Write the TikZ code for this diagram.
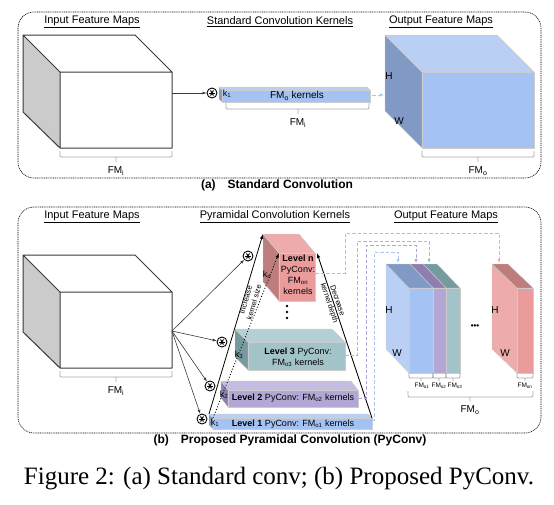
\documentclass[tikz,border=0pt]{standalone}
\usepackage{fontspec}
\setmainfont{Liberation Sans}
\newfontfamily\figfont{Liberation Serif}
\usetikzlibrary{arrows.meta}

\definecolor{edgegray}{HTML}{3A3A3A}
\definecolor{sidegray}{HTML}{CBCBCB}
\definecolor{brkgray}{HTML}{A8A8A8}
\definecolor{kblue}{HTML}{A4C2F4}
\definecolor{kbluelt}{HTML}{B9CFF3}
\definecolor{kbluedk}{HTML}{8099C5}
\definecolor{kred}{HTML}{EA9C9C}
\definecolor{kredlt}{HTML}{EDABAB}
\definecolor{kreddk}{HTML}{BF7C7C}
\definecolor{kteal}{HTML}{A2C4C9}
\definecolor{kteallt}{HTML}{B4D0D4}
\definecolor{ktealdk}{HTML}{759B9E}
\definecolor{kpurple}{HTML}{B4A7D6}
\definecolor{kpurplelt}{HTML}{C5BCE2}
\definecolor{kpurpledk}{HTML}{8E7FB0}
\definecolor{dashred}{HTML}{F4A9A9}
\definecolor{dashteal}{HTML}{9CC4C8}
\definecolor{dashpurple}{HTML}{B1A5D6}
\definecolor{dashblue}{HTML}{A9C6F5}

\tikzset{
  frame/.style={draw=black, line width=0.6pt, dash pattern=on 1pt off 0.8pt, rounded corners=16pt},
  head/.style={font=\fontsize{11}{13}\selectfont, inner sep=1pt},
  captxt/.style={font=\fontsize{12}{14}\selectfont\bfseries, inner sep=1pt},
  lbl/.style={font=\fontsize{10}{12}\selectfont, inner sep=0.5pt},
  small/.style={font=\fontsize{9}{11}\selectfont, inner sep=0.5pt},
  tiny/.style={font=\fontsize{6.5}{8}\selectfont, inner sep=0.5pt},
  sidetxt/.style={font=\fontsize{7.5}{8.5}\selectfont, align=center, inner sep=0.5pt},
  cube/.style={draw=edgegray, line width=1pt, line join=round},
  brk/.style={draw=brkgray, line width=0.8pt, rounded corners=1pt},
  boxline/.style={draw=black!20, line width=0.4pt},
  conv/.style={circle, draw, line width=0.9pt, minimum size=10pt, inner sep=0pt, fill=white,
    path picture={\foreach \a in {0,60,120}
      \draw[line width=1pt] (path picture bounding box.center) ++(\a:2.9pt) -- ++(\a+180:5.8pt);}},
  feed/.style={draw=edgegray, line width=0.6pt, -{Latex[length=4pt,width=3pt]}},
  pyr/.style={draw=black, line width=0.8pt, -{Latex[length=5pt,width=3.5pt]}},
  lvl/.style={draw=black, line width=0.9pt, dotted, -{Latex[length=5pt,width=3.5pt]}},
  kdash/.style={line width=0.9pt, dash pattern=on 3.5pt off 2pt, -{Latex[length=4pt,width=3.5pt]}},
}

% 3D block: front top-left x, y; width; height; depth dx, dy; front, top, side colour
\newcommand{\kbox}[9]{%
  \filldraw[boxline, fill=#9] (#1-#5,#2-#6) -- (#1,#2) -- (#1,#2+#4) -- (#1-#5,#2+#4-#6) -- cycle;
  \filldraw[boxline, fill=#8] (#1-#5,#2-#6) -- (#1+#3-#5,#2-#6) -- (#1+#3,#2) -- (#1,#2) -- cycle;
  \filldraw[boxline, fill=#7] (#1,#2) rectangle ++(#3,#4);
}

\begin{document}
\begin{tikzpicture}[x=1pt,y=-1pt]
  \useasboundingbox (0,0) rectangle (554,504);

  % ---- (a) standard convolution
  \draw[frame] (18,12) rectangle (541,178);
  \node[head] (hinA) at (92,22) {\underline{Input Feature Maps}};
  \node[head] (hkerA) at (280,22) {\underline{Standard Convolution Kernels}};
  \node[head] (houtA) at (441,22) {\underline{Output Feature Maps}};

  \fill[sidegray] (23,35) -- (60,72) -- (60,148) -- (23,112) -- cycle;
  \draw[cube] (23,35) -- (135,35) -- (172,72) -- (172,148) -- (60,148) -- (23,112) -- cycle
    (23,35) -- (60,72) -- (172,72) (60,72) -- (60,148);
  \coordinate (inA) at (172,93);
  \draw[brk] (60,151) -- (60,157) -- (172,157) -- (172,151) (116,157) -- (116,162);
  \node[lbl] (fmiA) at (116,171) {FM\textsubscript{i}};

  \node[conv] (cA) at (212,93) {};
  \draw[feed] (inA) -- (cA);
  \kbox{222}{90}{148}{12}{3}{3}{kblue}{kbluelt}{kbluedk}
  \node[small] (k1A) at (227,94) {k\textsubscript{1}};
  \node[lbl] (kerA) at (297,96) {FM\textsubscript{o} kernels};
  \coordinate (kerA-e) at (372,95);
  \draw[brk] (226,103) -- (226,109) -- (369,109) -- (369,103) (298,109) -- (298,114);
  \node[lbl] (fmiA2) at (298,123) {FM\textsubscript{i}};

  \kbox{422}{72}{112}{76}{37}{37}{kblue}{kbluelt}{kbluedk}
  \coordinate (outA-w) at (384,95);
  \draw[kdash, dashblue] (kerA-e) -- (outA-w);
  \node[lbl] (hA) at (389,76) {H};
  \node[lbl] (wA) at (399,121) {W};
  \draw[brk] (422,151) -- (422,157) -- (534,157) -- (534,151) (478,157) -- (478,162);
  \node[lbl] (fmoA) at (478,171) {FM\textsubscript{o}};

  \node[captxt] (capA) at (277,185) {(a)\hspace{12pt}Standard Convolution};

  % ---- (b) pyramidal convolution
  \draw[frame] (18,207) rectangle (541,433);
  \node[head] (hinB) at (92,217) {\underline{Input Feature Maps}};
  \node[head] (hkerB) at (275,217) {\underline{Pyramidal Convolution Kernels}};
  \node[head] (houtB) at (446,217) {\underline{Output Feature Maps}};

  \fill[sidegray] (23,255) -- (60,292) -- (60,368) -- (23,332) -- cycle;
  \draw[cube] (23,255) -- (135,255) -- (172,292) -- (172,368) -- (60,368) -- (23,332) -- cycle
    (23,255) -- (60,292) -- (172,292) (60,292) -- (60,368);
  \coordinate (inB) at (172,331);
  \draw[brk] (60,371) -- (60,377) -- (172,377) -- (172,371) (116,377) -- (116,382);
  \node[lbl] (fmiB) at (116,391) {FM\textsubscript{i}};

  % pyramid levels
  \kbox{213}{418}{159}{11}{4}{4}{kblue}{kbluelt}{kbluedk}
  \kbox{228}{390}{130}{17}{7}{9}{kpurple}{kpurplelt}{kpurpledk}
  \kbox{248}{342}{97}{28}{13}{13}{kteal}{kteallt}{ktealdk}
  \kbox{279}{253}{36}{48}{16}{19}{kred}{kredlt}{kreddk}
  \coordinate (lv1-e) at (372,420);
  \coordinate (lv2-e) at (358,398);
  \coordinate (lv3-e) at (345,355);
  \coordinate (lvN-e) at (315,273);

  \node[small, align=center] (lvlN) at (298,275) {\textbf{Level n}\\PyConv:\\FM\textsubscript{on}\\kernels};
  \node[small, align=center] (lvl3) at (298,357) {\textbf{Level 3} PyConv:\\FM\textsubscript{o3} kernels};
  \node[small] (lvl2) at (293,398) {\textbf{Level 2} PyConv: FM\textsubscript{o2} kernels};
  \node[small] (lvl1) at (293,424) {\textbf{Level 1} PyConv: FM\textsubscript{o1} kernels};
  \node[small] (k1B) at (215,423) {k\textsubscript{1}};
  \node[small] (k2B) at (224,395) {k\textsubscript{2}};
  \node[small] (k3B) at (239,355) {k\textsubscript{3}};
  \node[small] (knB) at (267,275) {k\textsubscript{n}};
  \foreach \y in {306,312,318}
    \fill (287,\y) circle (1.3pt);

  \coordinate (pyrL) at (209,414);
  \coordinate (pyrR) at (372,418);
  \coordinate (pyrLt) at (263,234);
  \coordinate (pyrRt) at (317,253);
  \coordinate (dotB) at (213,418);
  \coordinate (dotT) at (279,253);
  \draw[pyr] (pyrL) -- (pyrLt);
  \draw[pyr] (pyrR) -- (pyrRt);
  \draw[lvl] (dotB) -- (dotT);
  \node[sidetxt, rotate=74] (incr) at (250,301) {Increase\\kernel size};
  \node[sidetxt, rotate=-71.5] (decr) at (333,302) {Decrease\\kernel depth};

  % convolutions
  \node[conv] (c1) at (248,256) {};
  \node[conv] (c2) at (222,342) {};
  \node[conv] (c3) at (210,386) {};
  \node[conv] (c4) at (202,419) {};
  \foreach \c in {c1,c2,c3,c4}
    \draw[feed] (inB) -- (\c);

  % output maps
  \kbox{446}{288}{14}{85}{23}{24}{kteal}{ktealdk}{kteal}
  \kbox{433}{288}{13}{85}{23}{24}{kpurple}{kpurpledk}{kpurple}
  \kbox{409}{288}{24}{85}{23}{24}{kblue}{kbluedk}{kbluelt}
  \kbox{517}{288}{16}{85}{25}{24}{kred}{kreddk}{kredlt}
  \coordinate (sl1-n) at (398,263);
  \coordinate (sl2-n) at (416,263);
  \coordinate (sl3-n) at (429,263);
  \coordinate (slN-n) at (499,263);
  \node[lbl] (h1) at (389,310) {H};
  \node[lbl] (w1) at (397,353) {W};
  \node[lbl] (hN) at (495,310) {H};
  \node[lbl] (wN) at (505,353) {W};
  \node[font=\fontsize{8}{8}\selectfont\bfseries, inner sep=0pt] (odots) at (475,327)
    {\textbullet\textbullet\textbullet};

  \draw[kdash, dashred] (lvN-e) -- ++(30,0) -- ++(0,-40) -| (slN-n);
  \draw[kdash, dashteal] (lv3-e) -- ++(12,0) -- ++(0,-114) -| (sl3-n);
  \draw[kdash, dashpurple] (lv2-e) -- ++(8,0) -- ++(0,-153) -| (sl2-n);
  \draw[kdash, dashblue] (lv1-e) -- ++(2,0) -- ++(0,-168) -| (sl1-n);

  \draw[brk] (409,373) -- (409,378) -- (433,378) -- (433,373) (421,378) -- (421,381);
  \draw[brk] (433,373) -- (433,378) -- (446,378) -- (446,373) (439,378) -- (439,381);
  \draw[brk] (446,373) -- (446,378) -- (460,378) -- (460,373) (453,378) -- (453,381);
  \draw[brk] (517,373) -- (517,378) -- (533,378) -- (533,373) (525,378) -- (525,381);
  \node[tiny] (fmo1) at (422,386) {FM\textsubscript{o1}};
  \node[tiny] (fmo2) at (439,386) {FM\textsubscript{o2}};
  \node[tiny] (fmo3) at (455,386) {FM\textsubscript{o3}};
  \node[tiny] (fmon) at (525,386) {FM\textsubscript{on}};
  \draw[brk] (408,391) -- (408,397) -- (533,397) -- (533,391) (470,397) -- (470,401);
  \node[lbl] (fmoB) at (470,410) {FM\textsubscript{o}};

  \node[captxt] (capB) at (290,440) {(b)\hspace{12pt}Proposed Pyramidal Convolution (PyConv)};

  % figure caption
  \node[font=\figfont\fontsize{25}{30}\selectfont, inner sep=0pt] (fig) at (279,479)
    {Figure 2: (a) Standard conv; (b) Proposed PyConv.};
\end{tikzpicture}
\end{document}
